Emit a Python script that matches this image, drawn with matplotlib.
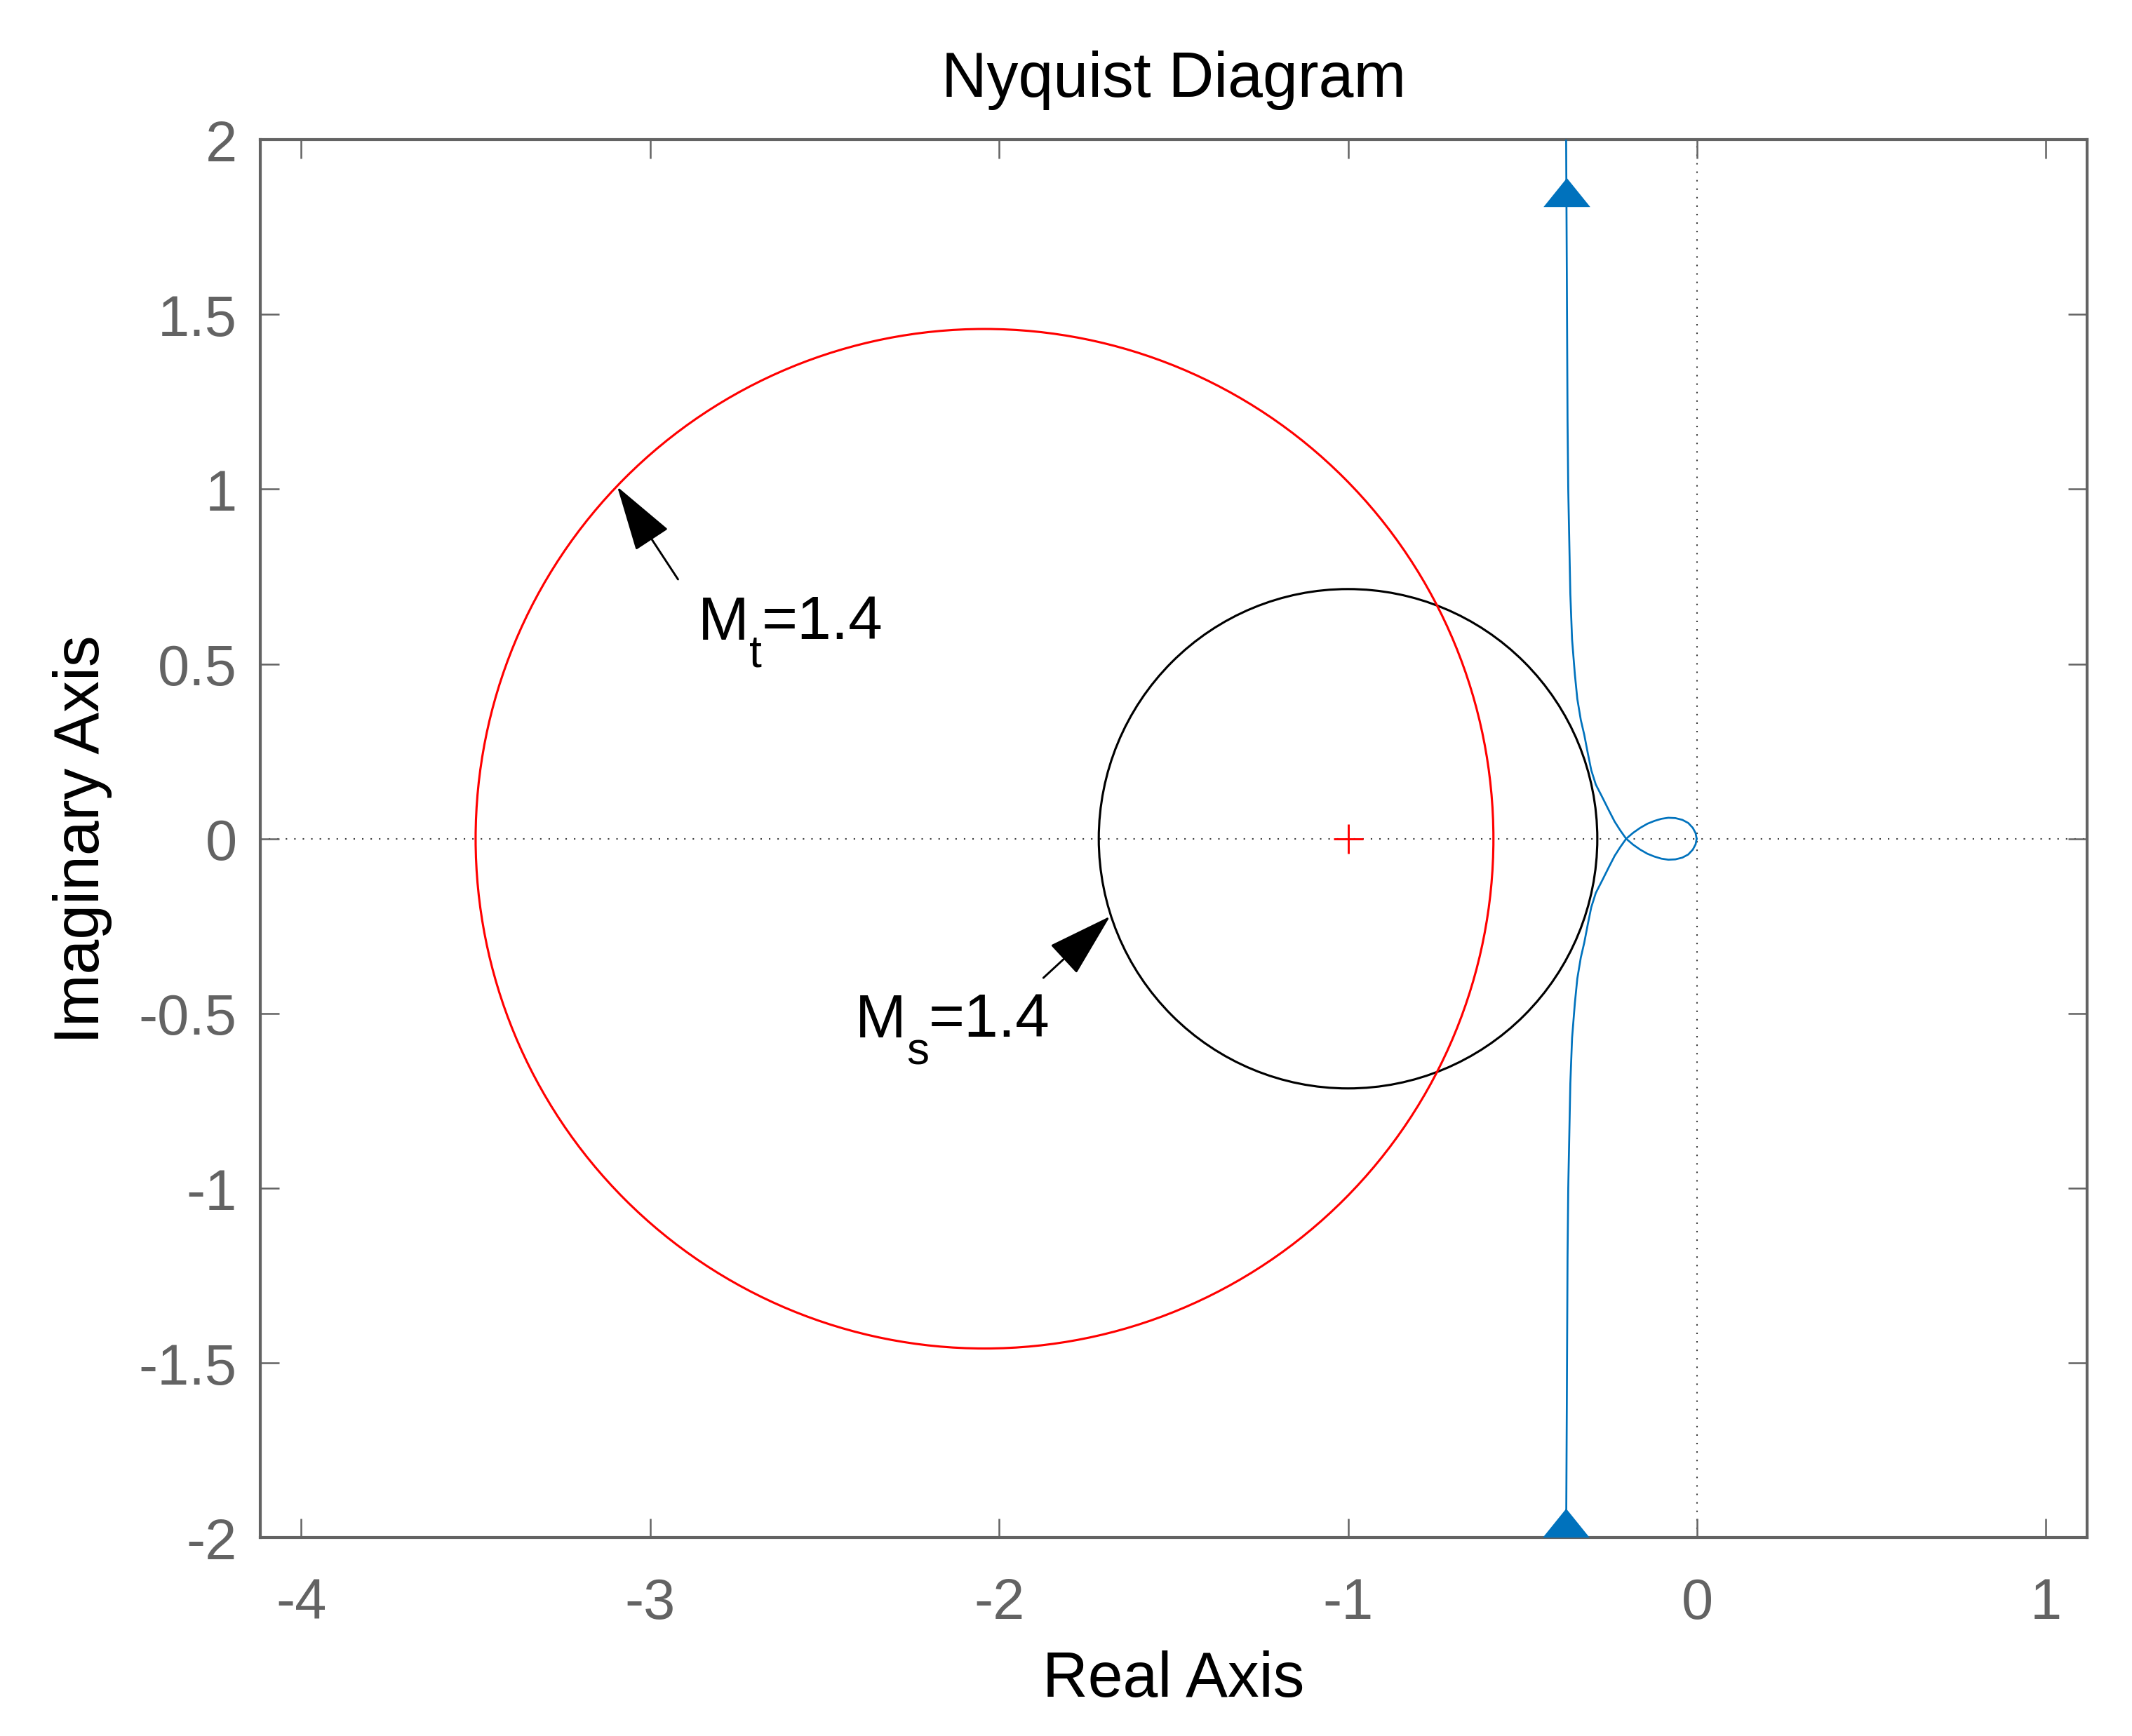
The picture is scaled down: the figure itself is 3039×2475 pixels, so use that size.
"""
Nyquist diagram with M_s and M_t circles.
"""
import matplotlib
matplotlib.use("Agg")
import matplotlib.pyplot as plt
from matplotlib.patches import Circle

# upper outer branch of the Nyquist curve (top -> real axis crossing)
branch_x = [-0.376, -0.375, -0.373, -0.371, -0.369, -0.366, -0.363, -0.358, -0.350,
            -0.343, -0.333, -0.323, -0.313, -0.303, -0.290, -0.270, -0.253, -0.236,
            -0.220, -0.203]
branch_y = [2.20, 2.00, 1.60, 1.20, 1.00, 0.85, 0.70, 0.57, 0.47,
            0.40, 0.34, 0.297, 0.245, 0.196, 0.155, 0.116, 0.082, 0.049,
            0.024, 0.0]
# small loop next to the origin, lower half (crossing -> origin)
loop_x = [-0.183, -0.163, -0.142, -0.122, -0.102, -0.082, -0.062, -0.042, -0.025,
          -0.012, -0.004, -0.001]
loop_y = [-0.017, -0.031, -0.043, -0.051, -0.057, -0.060, -0.059, -0.054, -0.045,
          -0.031, -0.016, 0.0]

# direction markers on the curve
arrow_x = [-0.374, -0.376]
arrow_y = [1.85, -1.957]

# sensitivity / complementary sensitivity circles (Ms = Mt = 1.4)
circle_cx = [-1.0, -2.0417]
circle_r = [0.7143, 1.4583]
circle_colors = ["black", "red"]

# annotations: main letter, subscript, rest
ann_main = ["M", "M"]
ann_sub = ["t", "s"]
ann_rest = ["=1.4", "=1.4"]
ann_text_x = [-2.862, -2.412]
ann_text_y = [0.572, -0.566]
ann_tip_x = [-3.094, -1.682]
ann_tip_y = [1.007, -0.222]
ann_tail_x = [-2.920, -1.873]
ann_tail_y = [0.742, -0.398]

xticks = [-4, -3, -2, -1, 0, 1]
yticks = [-2, -1.5, -1, -0.5, 0, 0.5, 1, 1.5, 2]

BLUE = "#0072BD"
GRAY = "#636363"
MAIN_FS = 21
SUB_FS = 15.4

plt.rcParams["font.family"] = ["Liberation Sans", "DejaVu Sans"]
plt.rcParams["axes.unicode_minus"] = False


def subscript_label(ax, x, y, main, sub, rest):
    # MATLAB style subscript: dropped well below the baseline
    t1 = ax.text(x, y, main, fontsize=MAIN_FS, ha="left", va="baseline", zorder=6)
    d_main = 0.212 * MAIN_FS
    d_sub = 0.212 * SUB_FS
    t2 = ax.annotate(sub, xy=(1, 0), xycoords=t1, xytext=(0, d_main - 9.5),
                     textcoords="offset points", fontsize=SUB_FS,
                     ha="left", va="baseline", zorder=6)
    ax.annotate(rest, xy=(1, 0), xycoords=t2, xytext=(0, d_sub + 9.5),
                textcoords="offset points", fontsize=MAIN_FS,
                ha="left", va="baseline", zorder=6)


def main():
    fig = plt.figure(figsize=(10.13, 8.2533), dpi=300)
    ax = fig.add_axes([0.1221, 0.1141, 0.8567, 0.8051])

    # reference lines through the origin
    ax.axhline(0, color="#3a3a3a", lw=0.5, ls=(0, (1.0, 4.8)), zorder=1)
    ax.axvline(0, color="#3a3a3a", lw=0.5, ls=(0, (1.0, 4.8)), zorder=1)

    for cx, r, c in zip(circle_cx, circle_r, circle_colors):
        ax.add_patch(Circle((cx, 0), r, fill=False, ec=c, lw=0.75, zorder=2))

    # critical point
    ax.plot([-1], [0], marker="+", color="red", ms=10, mew=0.7, ls="none", zorder=3)

    # Nyquist curve: negative and positive frequencies (mirror images)
    neg_x = branch_x + loop_x
    neg_y = branch_y + loop_y
    pos_y = [-v for v in neg_y]
    ax.plot(neg_x, neg_y, color=BLUE, lw=0.65, zorder=4)
    ax.plot(neg_x, pos_y, color=BLUE, lw=0.65, zorder=4)
    tri = [(0, 0.62), (-1, -0.62), (1, -0.62)]
    ax.plot(arrow_x, arrow_y, ls="none", marker=tri, ms=16, color=BLUE, mew=0,
            zorder=5, clip_on=False)

    for i in range(len(ann_main)):
        ax.annotate("", xy=(ann_tip_x[i], ann_tip_y[i]),
                    xytext=(ann_tail_x[i], ann_tail_y[i]),
                    arrowprops=dict(arrowstyle="-|>,head_length=1.0,head_width=0.3",
                                    color="black", lw=0.7, mutation_scale=20,
                                    shrinkA=0, shrinkB=0), zorder=6)
        subscript_label(ax, ann_text_x[i], ann_text_y[i],
                        ann_main[i], ann_sub[i], ann_rest[i])

    ax.set_xlim(-4.117, 1.117)
    ax.set_ylim(-2, 2)
    ax.set_xticks(xticks)
    ax.set_xticklabels(["%g" % t for t in xticks])
    ax.set_yticks(yticks)
    ax.set_yticklabels(["%g" % t for t in yticks])
    ax.tick_params(direction="in", length=6.5, width=0.6, colors=GRAY,
                   labelsize=19.5, top=True, right=True)
    ax.tick_params(axis="x", pad=13.4)
    ax.tick_params(axis="y", pad=8)
    for s in ax.spines.values():
        s.set_color(GRAY)
        s.set_linewidth(1.0)

    ax.set_title("Nyquist Diagram", fontsize=21.5, pad=15)
    ax.set_xlabel("Real Axis", fontsize=21.5, labelpad=6.7)
    ax.set_ylabel("Imaginary Axis", fontsize=21.5, labelpad=9)

    fig.savefig("out.png", dpi=300, facecolor="white")


if __name__ == "__main__":
    main()
